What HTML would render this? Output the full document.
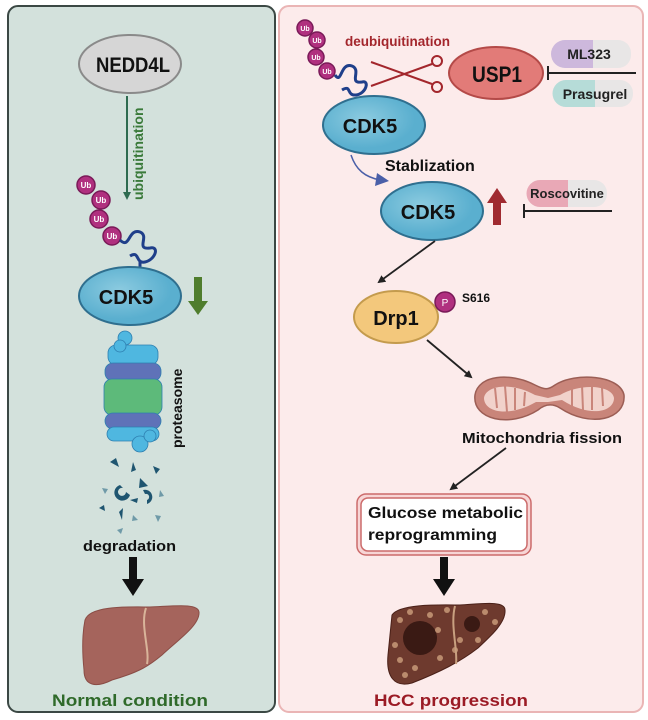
<!DOCTYPE html>
<html><head><meta charset="utf-8"><style>
body{margin:0;background:#fff}
svg{display:block;font-family:"Liberation Sans",Arial,sans-serif;font-weight:bold}
</style></head><body>
<svg width="648" height="720" viewBox="0 0 648 720" xmlns="http://www.w3.org/2000/svg">
<defs>
<marker id="ah" markerWidth="8" markerHeight="8" refX="6" refY="4" orient="auto" markerUnits="userSpaceOnUse"><path d="M0,0 L8,4 L0,8 Z" fill="#222"/></marker>
<marker id="ahg" markerWidth="8" markerHeight="8" refX="6" refY="4" orient="auto" markerUnits="userSpaceOnUse"><path d="M0,0 L8,4 L0,8 Z" fill="#2e6b50"/></marker>
<radialGradient id="gb" cx="40%" cy="40%"><stop offset="0" stop-color="#8ccbe0"/><stop offset="1" stop-color="#5aafcf"/></radialGradient>
</defs>
<rect x="8" y="6" width="267" height="706" rx="10" fill="#d3e1dc" stroke="#3b4844" stroke-width="2"/>
<rect x="279" y="6" width="364" height="706" rx="10" fill="#fcebeb" stroke="#eab5b5" stroke-width="2"/>

<!-- LEFT -->
<ellipse cx="130" cy="64" rx="51" ry="29" fill="#d6d6d6" stroke="#8a8a8a" stroke-width="2"/>
<text x="96" y="72" font-size="21" textLength="74" lengthAdjust="spacingAndGlyphs" fill="#111">NEDD4L</text>
<line x1="127" y1="96" x2="127" y2="198" stroke="#2e6b50" stroke-width="2" marker-end="url(#ahg)"/>
<text transform="translate(143,200) rotate(-90)" font-size="14" fill="#3a7a3a">ubiquitination</text>
<g fill="#b0307f" stroke="#7a1a58" stroke-width="1.5">
<circle cx="86" cy="185" r="9"/><circle cx="101" cy="200" r="9"/><circle cx="99" cy="219" r="9"/><circle cx="112" cy="236" r="9"/></g>
<g fill="#fff" font-size="8" text-anchor="middle"><text x="86" y="188">Ub</text><text x="101" y="203">Ub</text><text x="99" y="222">Ub</text><text x="112" y="239">Ub</text></g>
<path d="M120,240 C130,250 128,228 140,232 C150,236 135,250 150,248 C160,246 155,260 145,262 C135,264 140,250 130,256 M140,262 L140,268" fill="none" stroke="#1f3f8a" stroke-width="3"/>
<ellipse cx="130" cy="296" rx="51" ry="29" fill="url(#gb)" stroke="#2f6f8f" stroke-width="2"/>
<text x="126" y="304" font-size="20" text-anchor="middle" fill="#111">CDK5</text>
<path d="M194,277 h8 v24 h6 l-10,14 l-10,-14 h6 z" fill="#4f7d2d"/>
<g stroke="#2e7fb0" stroke-width="0.8">
<rect x="108" y="345" width="50" height="20" rx="8" fill="#4fb7e0"/>
<rect x="105" y="363" width="56" height="18" rx="8" fill="#5f72b8"/>
<rect x="104" y="379" width="58" height="36" rx="8" fill="#5dba7a"/>
<rect x="105" y="413" width="56" height="16" rx="8" fill="#5f72b8"/>
<rect x="107" y="427" width="52" height="14" rx="7" fill="#4fb7e0"/>
<circle cx="125" cy="338" r="7" fill="#4fb7e0"/><circle cx="120" cy="346" r="6" fill="#4fb7e0"/>
<circle cx="140" cy="444" r="8" fill="#4fb7e0"/><circle cx="150" cy="436" r="6" fill="#4fb7e0"/></g>
<text transform="translate(182,448) rotate(-90)" font-size="14" fill="#111">proteasome</text>
<g fill="#1f5570">
<path d="M110,462 l6,-4 l3,9 z"/><path d="M133,462 l3,8 l-5,2 z"/><path d="M153,466 l7,3 l-4,5 z"/>
<path d="M120,485 a8,8 0 1,0 10,10 l-4,-3 a4,4 0 1,1 -3,-4 z"/><path d="M140,478 l8,8 l-9,2 z"/>
<path d="M143,490 a7,7 0 1,1 4,14 l0,-4 a3,3 0 1,0 -2,-6 z"/><path d="M130,500 l8,-2 l-1,5 z"/>
<path d="M99,508 l5,-3 l1,6 z"/><path d="M119,512 l4,-4 l-1,12 z"/></g>
<g fill="#6f9aa8"><path d="M102,488 l6,1 l-3,5 z"/><path d="M160,490 l4,6 l-5,1 z"/><path d="M133,515 l5,5 l-6,1 z"/><path d="M155,515 l6,1 l-3,6 z"/><path d="M117,530 l6,-2 l-2,6 z"/></g>
<text x="83" y="551" font-size="15" textLength="93" lengthAdjust="spacingAndGlyphs" fill="#111">degradation</text>
<path d="M129,557 h8 v22 h7 l-11,17 l-11,-17 h7 z" fill="#111"/>
<path d="M85,620 C90,605 130,607 150,607 C175,606 198,603 199,612 C200,625 178,640 162,655 C150,665 140,672 112,680 C96,688 84,686 84,670 C82,650 82,635 85,620Z" fill="#a5645c" stroke="#8a4d46" stroke-width="1"/>
<path d="M146,608 C140,625 150,650 147,664" fill="none" stroke="#d9b49a" stroke-width="2"/>
<text x="52" y="706" font-size="17" textLength="156" lengthAdjust="spacingAndGlyphs" fill="#2f6a2a">Normal condition</text>

<!-- RIGHT -->
<g fill="#b0307f" stroke="#7a1a58" stroke-width="1.5">
<circle cx="305" cy="28" r="8"/><circle cx="317" cy="40" r="8"/><circle cx="316" cy="57" r="8"/><circle cx="327" cy="71" r="8"/></g>
<g fill="#fff" font-size="7" text-anchor="middle"><text x="305" y="31">Ub</text><text x="317" y="43">Ub</text><text x="316" y="60">Ub</text><text x="327" y="74">Ub</text></g>
<path d="M335,75 C342,85 340,62 352,66 C362,70 348,84 362,82 C370,80 366,94 356,95 C346,96 352,84 342,90" fill="none" stroke="#1f3f8a" stroke-width="3"/>
<text x="345" y="46" font-size="14" textLength="105" lengthAdjust="spacingAndGlyphs" fill="#a3262c">deubiquitination</text>
<g stroke="#a3262c" stroke-width="2" fill="none">
<line x1="371" y1="62" x2="432" y2="84"/><line x1="371" y1="86" x2="432" y2="64"/>
<circle cx="437" cy="61" r="5"/><circle cx="437" cy="87" r="5"/></g>
<ellipse cx="496" cy="73" rx="47" ry="26" fill="#e27b78" stroke="#b44a48" stroke-width="2"/>
<text x="472" y="82" font-size="22" textLength="50" lengthAdjust="spacingAndGlyphs" fill="#111">USP1</text>
<rect x="552" y="40" width="79" height="28" rx="13" fill="#e8e6e6"/><path d="M565,40 h28 v28 h-28 a13,13 0 0,1 0,-28z" fill="#cdb8dc"/>
<text x="589" y="59" font-size="14" text-anchor="middle" fill="#222">ML323</text>
<rect x="553" y="80" width="80" height="27" rx="13" fill="#e8e6e6"/><path d="M566,80 h29 v27 h-29 a13,13 0 0,1 0,-27z" fill="#b6dcd8"/>
<text x="595" y="99" font-size="14" text-anchor="middle" fill="#222">Prasugrel</text>
<line x1="548" y1="73" x2="636" y2="73" stroke="#222" stroke-width="2"/><line x1="548" y1="66" x2="548" y2="80" stroke="#222" stroke-width="2"/>
<ellipse cx="374" cy="125" rx="51" ry="29" fill="url(#gb)" stroke="#2f6f8f" stroke-width="2"/>
<text x="370" y="133" font-size="20" text-anchor="middle" fill="#111">CDK5</text>
<text x="385" y="171" font-size="16" fill="#111">Stablization</text>
<path d="M351,155 C356,170 365,177 380,180" fill="none" stroke="#4a5fa8" stroke-width="1.5"/>
<path d="M377,173 L389,181 L375,186 Z" fill="#4a5fa8"/>
<ellipse cx="432" cy="211" rx="51" ry="29" fill="url(#gb)" stroke="#2f6f8f" stroke-width="2"/>
<text x="428" y="219" font-size="20" text-anchor="middle" fill="#111">CDK5</text>
<path d="M493,225 h8 v-22 h6 l-10,-15 l-10,15 h6 z" fill="#a02a30"/>
<rect x="527" y="180" width="80" height="27" rx="13" fill="#e8e6e6"/><path d="M540,180 h28 v27 h-28 a13,13 0 0,1 0,-27z" fill="#e9a8b6"/>
<text x="567" y="198" font-size="13" text-anchor="middle" fill="#222">Roscovitine</text>
<line x1="524" y1="211" x2="612" y2="211" stroke="#222" stroke-width="2"/><line x1="524" y1="204" x2="524" y2="218" stroke="#222" stroke-width="2"/>
<line x1="435" y1="241" x2="379" y2="282" stroke="#222" stroke-width="1.8" marker-end="url(#ah)"/>
<ellipse cx="396" cy="317" rx="42" ry="26" fill="#f3c87c" stroke="#c49b4d" stroke-width="2"/>
<text x="396" y="325" font-size="20" text-anchor="middle" fill="#111">Drp1</text>
<circle cx="445" cy="302" r="10" fill="#b0307f" stroke="#7a1a58" stroke-width="1.5"/>
<text x="445" y="306" font-size="10" text-anchor="middle" fill="#fff" font-weight="normal">P</text>
<text x="462" y="302" font-size="12" fill="#111">S616</text>
<line x1="427" y1="340" x2="471" y2="377" stroke="#222" stroke-width="1.8" marker-end="url(#ah)"/>
<path d="M475,395 C478,375 510,372 535,385 C545,390 548,390 555,385 C575,372 620,375 624,395 C626,420 590,428 560,408 C552,403 545,404 538,410 C510,428 472,420 475,395 Z" fill="#c9857a" stroke="#9c5e55" stroke-width="1.5"/>
<path d="M484,398 C486,385 512,382 535,395 L548,398 L560,395 C580,383 612,385 614,398 C614,412 590,418 562,400 L548,402 L536,402 C508,418 484,412 484,398 Z" fill="#f1d2cb"/>
<g stroke="#c9857a" stroke-width="2"><line x1="495" y1="388" x2="497" y2="408"/><line x1="505" y1="386" x2="507" y2="412"/><line x1="515" y1="388" x2="515" y2="410"/><line x1="525" y1="392" x2="524" y2="406"/><line x1="572" y1="388" x2="572" y2="406"/><line x1="582" y1="385" x2="583" y2="410"/><line x1="592" y1="386" x2="592" y2="410"/><line x1="602" y1="388" x2="603" y2="406"/></g>
<text x="462" y="443" font-size="15" textLength="160" lengthAdjust="spacingAndGlyphs" fill="#111">Mitochondria fission</text>
<line x1="506" y1="448" x2="451" y2="489" stroke="#222" stroke-width="1.8" marker-end="url(#ah)"/>
<rect x="357" y="494" width="174" height="61" rx="9" fill="#f7d5d5" stroke="#cc6b6b" stroke-width="1.5"/>
<rect x="361" y="498" width="166" height="53" rx="7" fill="#fff" stroke="#cc6b6b" stroke-width="1.5"/>
<text x="368" y="518" font-size="16" textLength="155" lengthAdjust="spacingAndGlyphs" fill="#111">Glucose metabolic</text>
<text x="368" y="540" font-size="16" textLength="129" lengthAdjust="spacingAndGlyphs" fill="#111">reprogramming</text>
<path d="M440,557 h8 v22 h7 l-11,17 l-11,-17 h7 z" fill="#111"/>
<path d="M392,615 C400,603 445,605 460,605 C480,604 505,600 505,610 C506,622 492,635 478,648 C460,662 440,672 412,683 C394,688 386,676 388,655 Z" fill="#6e3a2e" stroke="#4a2018" stroke-width="1"/>
<circle cx="420" cy="638" r="17" fill="#3a1a14"/><circle cx="472" cy="624" r="8" fill="#3a1a14"/>
<g fill="#c89a78" opacity="0.85"><circle cx="400" cy="620" r="3"/><circle cx="410" cy="612" r="3"/><circle cx="430" cy="615" r="3"/><circle cx="447" cy="610" r="3"/><circle cx="460" cy="640" r="3"/><circle cx="485" cy="612" r="3"/><circle cx="495" cy="622" r="3"/><circle cx="478" cy="640" r="3"/><circle cx="400" cy="660" r="3"/><circle cx="415" cy="668" r="3"/><circle cx="440" cy="658" r="3"/><circle cx="455" cy="650" r="3"/><circle cx="395" cy="645" r="3"/><circle cx="438" cy="630" r="3"/><circle cx="405" cy="675" r="3"/></g>
<path d="M455,606 C450,625 458,650 456,664" fill="none" stroke="#c8a080" stroke-width="2"/>
<text x="374" y="706" font-size="17" textLength="154" lengthAdjust="spacingAndGlyphs" fill="#9b1b25">HCC progression</text>
</svg>
</body></html>
